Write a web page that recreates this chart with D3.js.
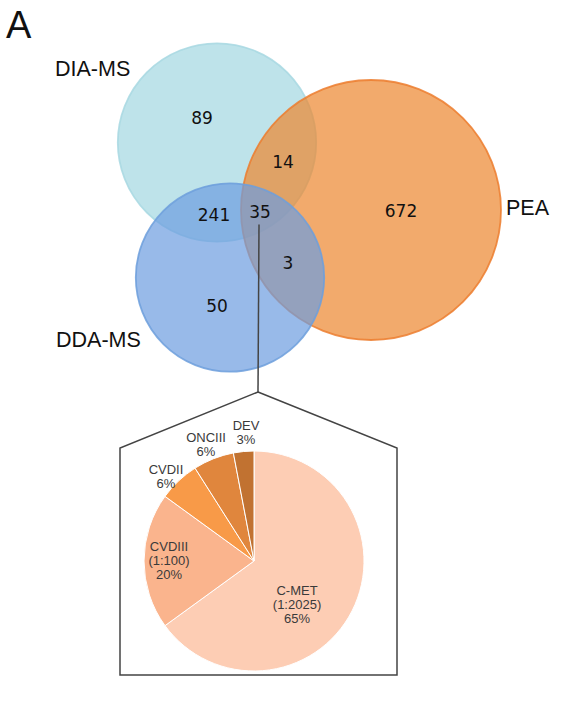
<!DOCTYPE html>
<html>
<head>
<meta charset="utf-8">
<script src="https://cdn.jsdelivr.net/npm/d3@7"></script>
<style>
  body { margin: 0; background: #fff; }
  svg { display: block; }
</style>
</head>
<body>
<div id="chart"></div>
<script>
// Venn sets (drawn in order, later ones on top)
const setNames = ["DIA-MS", "PEA", "DDA-MS"];
const setFills = ["#a2d7e1", "#ec862d", "#6c9de0"];
const setStrokes = ["#a8d8e2", "#ec7d2e", "#6d9fdc"];

// region counts
const regionNames = ["DIA only", "DIA∩PEA", "DIA∩DDA", "all", "PEA only", "DDA∩PEA", "DDA only"];
const regionCounts = [89, 14, 241, 35, 672, 3, 50];

// pie of the 35 shared proteins
const pieCategories = ["C-MET\n(1:2025)", "CVDIII\n(1:100)", "CVDII", "ONCIII", "DEV"];
const piePercents = [65, 20, 6, 6, 3];
const pieColors = ["#fdcdb4", "#fab48d", "#f89a48", "#e0863d", "#c17231"];

const W = 561, H = 708;
const svg = d3.select("#chart").append("svg")
    .attr("width", W).attr("height", H);

// venn layout units -> pixels
const vs = d3.scaleLinear().domain([0, 100]).range([0, 100]);

const circles = [
    { cx: 217, cy: 142.5, r: 99.2 },
    { cx: 371, cy: 210, r: 130 },
    { cx: 230, cy: 277.5, r: 94.2 }
];
const regionPos = [
    [202, 117.5], [283, 161.5], [214, 214.5], [260, 211.5],
    [401, 211], [288, 263], [217, 306]
];

svg.append("text")
    .attr("x", 6).attr("y", 38)
    .attr("font-family", "Liberation Sans, Arial, sans-serif")
    .attr("font-size", 38)
    .attr("fill", "#111")
    .text("A");

svg.selectAll(".set")
    .data(circles)
    .join("circle")
    .attr("class", "set")
    .attr("cx", d => vs(d.cx))
    .attr("cy", d => vs(d.cy))
    .attr("r", d => vs(d.r) - vs(0))
    .attr("fill", (d, i) => setFills[i])
    .attr("fill-opacity", 0.7)
    .attr("stroke", (d, i) => setStrokes[i])
    .attr("stroke-width", 1.8)
    .attr("stroke-opacity", 0.85);

// set labels
const setLabelPos = [[55, 76], [506, 214.5], [56, 347]];
svg.selectAll(".setLabel")
    .data(setNames)
    .join("text")
    .attr("class", "setLabel")
    .attr("x", (d, i) => setLabelPos[i][0])
    .attr("y", (d, i) => setLabelPos[i][1])
    .attr("font-family", "Liberation Sans, Arial, sans-serif")
    .attr("font-size", 21.5)
    .attr("fill", "#111")
    .text(d => d);

svg.selectAll(".count")
    .data(regionCounts)
    .join("text")
    .attr("class", "count")
    .attr("x", (d, i) => vs(regionPos[i][0]))
    .attr("y", (d, i) => vs(regionPos[i][1]))
    .attr("dy", "0.36em")
    .attr("text-anchor", "middle")
    .attr("font-family", "DejaVu Sans, Verdana, sans-serif")
    .attr("font-size", 17)
    .attr("fill", "#111")
    .text(d => d);

// connector + house-shaped frame
const pieCx = 254, pieCy = 561, pieR = 110;
const frame = { apexX: 258, apexY: 392, left: 120, right: 397, shoulder: 448, bottom: 675 };

svg.append("line")
    .attr("x1", vs(regionPos[3][0]) - 1).attr("y1", vs(regionPos[3][1]) + 13)
    .attr("x2", frame.apexX).attr("y2", frame.apexY)
    .attr("stroke", "#444").attr("stroke-width", 1.5);

svg.append("path")
    .attr("d", d3.line()([
        [frame.apexX, frame.apexY], [frame.right, frame.shoulder], [frame.right, frame.bottom],
        [frame.left, frame.bottom], [frame.left, frame.shoulder]
    ]) + "Z")
    .attr("fill", "none")
    .attr("stroke", "#444")
    .attr("stroke-width", 1.5);

const pie = d3.pie().sort(null).value(d => d)(piePercents);
const arc = d3.arc().innerRadius(0).outerRadius(pieR);

const pg = svg.append("g").attr("transform", `translate(${pieCx},${pieCy})`);
pg.selectAll("path")
    .data(pie)
    .join("path")
    .attr("d", arc)
    .attr("fill", (d, i) => pieColors[i])
    .attr("stroke", "#fff")
    .attr("stroke-width", 1);

// pie labels (offsets relative to pie centre, first baseline)
const pieLabelPos = [[43, 33.5], [-85, -10.5], [-88, -87.5], [-48, -119.5], [-8, -131.5]];
pg.selectAll(".plabel")
    .data(pie)
    .join("text")
    .attr("class", "plabel")
    .attr("text-anchor", "middle")
    .attr("font-family", "Liberation Sans, Arial, sans-serif")
    .attr("font-size", 13)
    .attr("fill", "#3a3a3a")
    .attr("transform", (d, i) => `translate(${pieLabelPos[i][0]},${pieLabelPos[i][1]})`)
    .each(function (d, i) {
        const lines = pieCategories[i].split("\n").concat([piePercents[i] + "%"]);
        d3.select(this).selectAll("tspan")
            .data(lines)
            .join("tspan")
            .attr("x", 0)
            .attr("dy", (l, j) => j === 0 ? 0 : 14)
            .text(l => l);
    });
</script>
</body>
</html>
